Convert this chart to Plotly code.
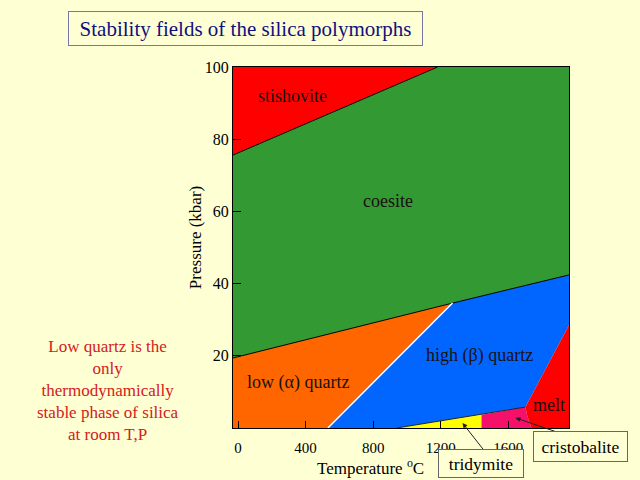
import plotly.graph_objects as go

# phase field outlines, temperature (C) / pressure (kbar)
stish_T = [-30, 1182, -30]
stish_P = [75.6, 100, 100]

coes_T = [-30, 1270, 1960, 1960, 1182, -30]
coes_P = [19.4, 34.6, 42.4, 100, 100, 75.6]

lowq_T = [-30, 1270, 532, -30]
lowq_P = [19.4, 34.6, 0, 0]

highq_T = [532, 1270, 1960, 1960, 1702, 939]
highq_P = [0, 34.6, 42.4, 28.5, 5.8, 0]

trid_T = [939, 1442, 1442]
trid_P = [0, 3.7, 0]

crist_T = [1442, 1702, 1712, 1737, 1442]
crist_P = [3.7, 5.8, 3.5, 0, 0]

melt_T = [1737, 1712, 1702, 1960, 1960]
melt_P = [0, 3.5, 5.8, 28.5, 0]

# boundaries drawn as lines
st_co_T = [-30, 1182]
st_co_P = [75.6, 100]
co_q_T = [-30, 1270, 1960]
co_q_P = [19.4, 34.6, 42.4]
lo_hi_T = [532, 1270]
lo_hi_P = [0, 34.6]
hq_tr_T = [939, 1442, 1702]
hq_tr_P = [0, 3.7, 5.8]

x_ticks = [0, 400, 800, 1200, 1600]
y_ticks = [20, 40, 60, 80, 100]

bg = "#FFFFD4"
serif = "Liberation Serif, Times New Roman, serif"

fig = go.Figure()

fields = [
    (stish_T, stish_P, "#FF0000"),
    (coes_T, coes_P, "#339933"),
    (lowq_T, lowq_P, "#FF6600"),
    (highq_T, highq_P, "#0066FF"),
    (trid_T, trid_P, "#FFFF00"),
    (crist_T, crist_P, "#F5106A"),
    (melt_T, melt_P, "#FF0000"),
]
for t, p, c in fields:
    fig.add_trace(go.Scatter(x=t, y=p, fill="toself", fillcolor=c, mode="lines",
                             line=dict(width=0, color=c), hoverinfo="skip", showlegend=False))

for t, p, c, w in [(st_co_T, st_co_P, "black", 1), (co_q_T, co_q_P, "black", 1),
                   (lo_hi_T, lo_hi_P, "white", 1.5), (hq_tr_T, hq_tr_P, "#222222", 1)]:
    fig.add_trace(go.Scatter(x=t, y=p, mode="lines", line=dict(color=c, width=w),
                             hoverinfo="skip", showlegend=False))

# field names
labels = [
    ("stishovite", 325, 92),
    ("coesite", 886, 63),
    ("low (α) quartz", 355, 12.5),
    ("high (β) quartz", 1430, 20.2),
    ("melt", 1843, 6.4),
]
for txt, t, p in labels:
    fig.add_annotation(x=t, y=p, text=txt, showarrow=False, xanchor="center", yanchor="middle",
                       font=dict(family=serif, size=18, color="#1a1010"))

# arrows to the thin fields
fig.add_annotation(x=1329, y=1.4, ax=22, ay=28, text="", showarrow=True,
                   arrowhead=2, arrowsize=1, arrowwidth=1, arrowcolor="#222222")
fig.add_annotation(x=1643, y=2.8, ax=44, ay=15, text="", showarrow=True,
                   arrowhead=2, arrowsize=1, arrowwidth=1, arrowcolor="#222222")

boxes = [
    ("tridymite", 0.738, -0.0997, 82, 25),
    ("cristobalite", 1.033, -0.0526, 91, 27),
]
for txt, bx, by, w, h in boxes:
    fig.add_annotation(xref="paper", yref="paper", x=bx, y=by, text=txt,
                       xanchor="center", yanchor="middle",
                       showarrow=False, width=w, height=h, bgcolor=bg,
                       bordercolor="#666666", borderwidth=1,
                       font=dict(family=serif, size=17.5, color="black"))

# title box
fig.add_annotation(xref="paper", yref="paper", x=0.037, y=1.107,
                   text="Stability fields of the silica polymorphs",
                   xanchor="center", yanchor="middle",
                   showarrow=False, width=351, height=31, bgcolor=bg,
                   bordercolor="#7777AA", borderwidth=1,
                   font=dict(family=serif, size=21, color="#101080"))

# note on the left
fig.add_annotation(xref="paper", yref="paper", x=-0.372, y=0.1025,
                   text="Low quartz is the<br>only<br>thermodynamically<br>stable phase of silica<br>at room T,P",
                   showarrow=False, align="center", xanchor="center", yanchor="middle",
                   font=dict(family=serif, size=17, color="#D42020"))

# axis titles
fig.add_annotation(xref="paper", yref="paper", x=0.4107, y=-0.108, text="Temperature <sup>o</sup>C",
                   showarrow=False, xanchor="center", yanchor="middle",
                   font=dict(family=serif, size=17, color="black"))
fig.add_annotation(xref="paper", yref="paper", x=-0.113, y=0.526, text="Pressure (kbar)",
                   showarrow=False, textangle=-90, xanchor="center", yanchor="middle",
                   font=dict(family=serif, size=17, color="black"))

fig.update_xaxes(range=[-30, 1960], tickvals=x_ticks, ticks="inside", ticklen=7,
                 tickcolor="black", showgrid=False, zeroline=False, showline=True,
                 linecolor="black", linewidth=1, mirror=True, ticklabelstandoff=6,
                 tickfont=dict(family=serif, size=15, color="black"))
fig.update_yaxes(range=[0, 100], tickvals=y_ticks, ticks="inside", ticklen=8,
                 tickcolor="black", showgrid=False, zeroline=False, showline=True,
                 linecolor="black", linewidth=1, mirror=True,
                 tickfont=dict(family=serif, size=16, color="black"))

fig.update_layout(width=640, height=480, paper_bgcolor=bg, plot_bgcolor=bg,
                  margin=dict(l=233, r=71, t=67, b=52), showlegend=False)

# page margin off so the figure sits at the window's corner
fig.write_html("out.html", config={"displayModeBar": False},
               post_script="document.body.style.margin='0';document.body.style.background='%s';" % bg)
